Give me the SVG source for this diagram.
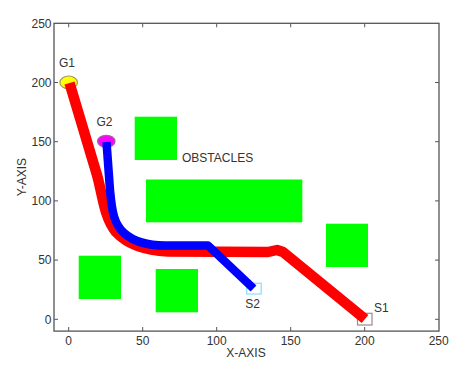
<svg xmlns="http://www.w3.org/2000/svg" width="474" height="380" viewBox="0 0 474 380">
<style>
text{font-family:"Liberation Sans",Arial,sans-serif;font-size:12px;fill:#333}
.tick{stroke:#555;stroke-width:1}
.obs{fill:#00ff00}
.ylab{text-anchor:end}
.xlab{text-anchor:middle}
</style>
<rect width="474" height="380" fill="#fff"/>
<g id="axes">
<rect x="54" y="23.3" width="385" height="307.8" fill="none" stroke="#555" stroke-width="1.3"/>
<path class="tick" d="M68.7,331V327M142.7,331V327M216.7,331V327M290.7,331V327M364.7,331V327M68.7,23.3V27.3M142.7,23.3V27.3M216.7,23.3V27.3M290.7,23.3V27.3M364.7,23.3V27.3M54,319.3H58M54,260.1H58M54,200.9H58M54,141.7H58M54,82.5H58M439,319.3H435M439,260.1H435M439,200.9H435M439,141.7H435M439,82.5H435"/>
<text class="ylab" x="51.5" y="27.5">250</text>
<text class="ylab" x="51.5" y="86.7">200</text>
<text class="ylab" x="51.5" y="145.9">150</text>
<text class="ylab" x="51.5" y="205.1">100</text>
<text class="ylab" x="51.5" y="264.3">50</text>
<text class="ylab" x="51.5" y="323.5">0</text>
<text class="xlab" x="68.7" y="345">0</text>
<text class="xlab" x="142.7" y="345">50</text>
<text class="xlab" x="216.7" y="345">100</text>
<text class="xlab" x="290.7" y="345">150</text>
<text class="xlab" x="364.7" y="345">200</text>
<text class="xlab" x="438.7" y="345">250</text>
<text class="xlab" x="246" y="357">X-AXIS</text>
<text class="xlab" transform="translate(25.5,177) rotate(-90)">Y-AXIS</text>
</g>
<g id="obstacles">
<rect class="obs" x="134.7" y="116.7" width="42.3" height="43.3"/>
<rect class="obs" x="146" y="179.5" width="156.3" height="42.8"/>
<rect class="obs" x="326" y="223.7" width="42" height="43.3"/>
<rect class="obs" x="78.7" y="255.7" width="42.3" height="43.3"/>
<rect class="obs" x="155.7" y="269" width="42.3" height="43.3"/>
<text x="182" y="161.7">OBSTACLES</text>
</g>
<g id="G1">
<ellipse cx="68.7" cy="82.5" rx="8.8" ry="6.5" fill="#ffff00" stroke="#a09a60" stroke-width="1.2"/>
<text class="xlab" x="67" y="66.7">G1</text>
</g>
<g id="G2">
<ellipse cx="106.3" cy="141.3" rx="8.7" ry="6" fill="#ff00ff" stroke="#a060a0" stroke-width="1.2"/>
<text class="xlab" x="104.5" y="125.7">G2</text>
</g>
<g id="S1">
<rect x="357.5" y="313.3" width="14.5" height="11.7" fill="none" stroke="#a08888" stroke-width="1.2"/>
<text x="374" y="311.7">S1</text>
</g>
<g id="S2">
<rect x="246.7" y="283.3" width="14.5" height="10.7" fill="none" stroke="#88ddff" stroke-width="1.2"/>
<text class="xlab" x="252.5" y="308">S2</text>
</g>
<g id="connectors" fill="none" stroke-linejoin="round">
<path d="M69.5,83 L97,175 C102,192 104,218 116,232 C128,245 145,250 168,251.5 L268,252 L277,250 L283,252 L365,319" stroke="#ff0000" stroke-width="10.5"/>
<path d="M106.5,142 L110,190 C112,212 114,224 124,233 C134,242 148,245.5 165,245.5 L208,245.5 L253.5,288.5" stroke="#0000ff" stroke-width="8.5"/>
</g>
</svg>
